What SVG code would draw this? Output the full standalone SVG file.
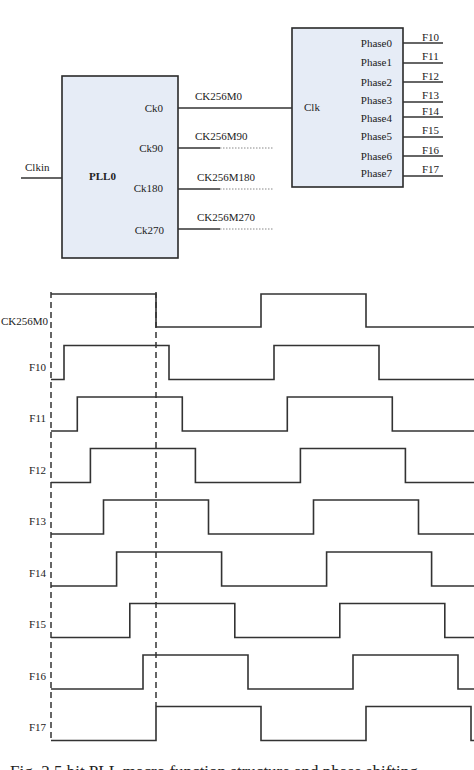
<svg xmlns="http://www.w3.org/2000/svg" width="474" height="770" viewBox="0 0 474 770">
<style>
text{font-family:"Liberation Serif","Times New Roman",serif;font-size:11px;fill:#222}
.box{fill:#e6ecf6;stroke:#2a2a2a;stroke-width:1.6}
.w{fill:none;stroke:#333;stroke-width:1.6}
.dot{fill:none;stroke:#888;stroke-width:1;stroke-dasharray:1.5 1.5}
.dash{fill:none;stroke:#333;stroke-width:1.5;stroke-dasharray:6 4}
.r{text-anchor:end}
</style>
<rect width="474" height="770" fill="#fff"/>
<g id="PLL0">
<rect class="box" x="62" y="76" width="116" height="182"/>
<text x="89" y="180" font-weight="bold">PLL0</text>
<text class="r" x="163" y="112">Ck0</text>
<text class="r" x="163" y="152">Ck90</text>
<text class="r" x="163" y="192">Ck180</text>
<text class="r" x="164" y="234">Ck270</text>
</g>
<g id="Clk">
<rect class="box" x="292" y="28" width="111" height="159"/>
<text x="304" y="111">Clk</text>
<text class="r" x="392" y="47">Phase0</text>
<text class="r" x="392" y="66">Phase1</text>
<text class="r" x="392" y="86">Phase2</text>
<text class="r" x="392" y="104">Phase3</text>
<text class="r" x="392" y="122">Phase4</text>
<text class="r" x="392" y="140">Phase5</text>
<text class="r" x="392" y="160">Phase6</text>
<text class="r" x="392" y="177">Phase7</text>
</g>
<g id="connectors">
<path class="w" d="M21,178H62"/>
<text x="25" y="171">Clkin</text>
<path class="w" d="M178,108H292"/>
<text x="195" y="100">CK256M0</text>
<path class="w" d="M178,148H220"/><path class="dot" d="M220,148H274"/>
<text x="195" y="140">CK256M90</text>
<path class="w" d="M178,189H220"/><path class="dot" d="M220,189H274"/>
<text x="197" y="181">CK256M180</text>
<path class="w" d="M178,229H220"/><path class="dot" d="M220,229H274"/>
<text x="197" y="221">CK256M270</text>
<g class="w">
<path d="M403,43H443"/><path d="M403,63H443"/><path d="M403,82H443"/><path d="M403,102H443"/>
<path d="M403,117H443"/><path d="M403,137H443"/><path d="M403,156H443"/><path d="M403,176H443"/>
</g>
<text x="422" y="41">F10</text>
<text x="422" y="60">F11</text>
<text x="422" y="80">F12</text>
<text x="422" y="99">F13</text>
<text x="422" y="115">F14</text>
<text x="422" y="134">F15</text>
<text x="422" y="154">F16</text>
<text x="422" y="173">F17</text>
</g>
<g id="waveforms">
<path class="dash" d="M51,292V742"/>
<path class="dash" d="M156,292V706"/>
<path class="w" d="M51,294H156V327H261V294H366V327H474"/>
<path class="w" d="M51,379.5H64V345.5H169V379.5H274V345.5H379V379.5H474"/>
<path class="w" d="M51,431H77.3V397H182.3V431H287.3V397H392.3V431H474"/>
<path class="w" d="M51,482.5H90.4V448.5H195.4V482.5H300.4V448.5H405.4V482.5H474"/>
<path class="w" d="M51,534H103.5V500H208.5V534H313.5V500H418.5V534H474"/>
<path class="w" d="M51,586H116.6V552H221.6V586H326.6V552H431.6V586H474"/>
<path class="w" d="M51,637.5H129.8V603.5H234.8V637.5H339.8V603.5H444.8V637.5H474"/>
<path class="w" d="M51,689H143V655H248V689H353V655H458V689H474"/>
<path class="w" d="M51,740.5H156V706.5H261V740.5H366V706.5H471V740.5H474"/>
<text class="r" x="48" y="325">CK256M0</text>
<text class="r" x="46" y="371">F10</text>
<text class="r" x="46" y="422">F11</text>
<text class="r" x="46" y="474">F12</text>
<text class="r" x="46" y="525">F13</text>
<text class="r" x="46" y="577">F14</text>
<text class="r" x="46" y="628">F15</text>
<text class="r" x="46" y="680">F16</text>
<text class="r" x="46" y="731">F17</text>
</g>
<text x="10" y="777" style="font-size:17px">Fig. 2 5 bit PLL macro function structure and phase shifting</text>
</svg>
